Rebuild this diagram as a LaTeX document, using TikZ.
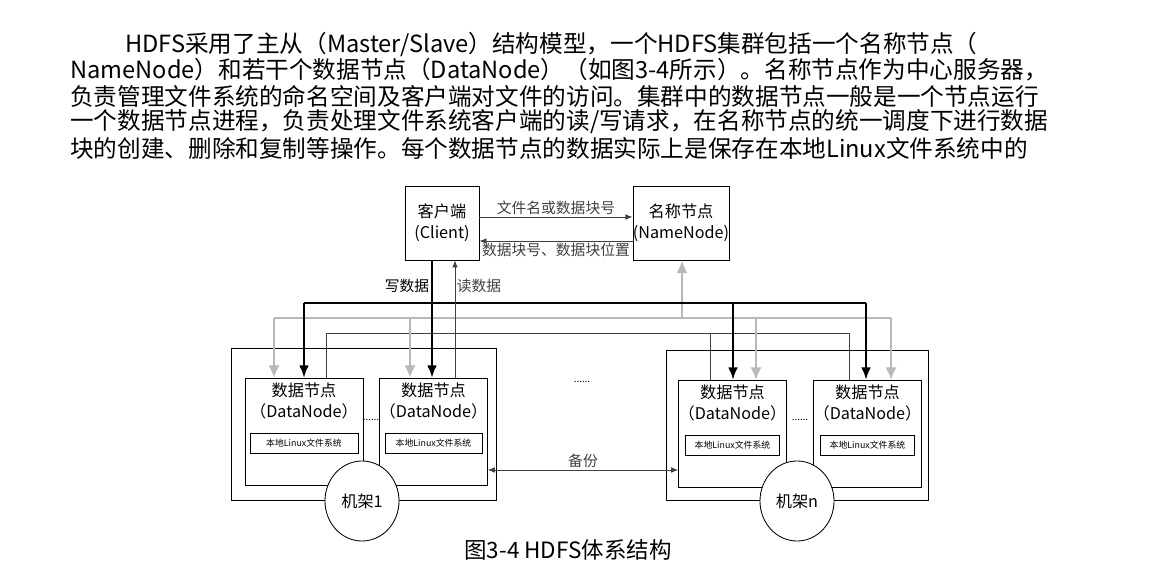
\documentclass[tikz,border=0pt]{standalone}
\usepackage{fontspec}
\setmainfont{Noto Sans CJK SC}
\usetikzlibrary{arrows.meta,shapes.geometric}
\begin{document}
\begin{tikzpicture}[x=0.025cm,y=-0.025cm,
  para/.style={anchor=west,inner sep=0,font=\fontsize{16.8}{18}\selectfont},
  box/.style={draw,fill=white,line width=0.6pt,align=center,font=\fontsize{11.5}{15}\selectfont,inner sep=0},
  dnbox/.style={box,minimum width=#1,minimum height=2.675cm,anchor=north},
  fsbox/.style={draw,line width=0.6pt,inner sep=0,minimum height=0.5cm,font=\fontsize{6.3}{7}\selectfont},
  blk/.style={line width=2pt,black},
  gry/.style={line width=2pt,black!28},
  thn/.style={line width=0.6pt,black!75},
  dots/.style={font=\fontsize{7}{8}\selectfont},
  lbl/.style={font=\fontsize{10.5}{12}\selectfont,inner sep=1pt}]
\useasboundingbox (0,0) rectangle (1163,563);
% paragraph
\node[para] (p1) at (125,45) {HDFS采用了主从（Master/Slave）结构模型，一个HDFS集群包括一个名称节点（};
\node[para] (p2) at (70,70) {NameNode）和若干个数据节点（DataNode）（如图3-4所示）。名称节点作为中心服务器，};
\node[para] (p3) at (70,96) {负责管理文件系统的命名空间及客户端对文件的访问。集群中的数据节点一般是一个节点运行};
\node[para] (p4) at (70,122) {一个数据节点进程，负责处理文件系统客户端的读/写请求，在名称节点的统一调度下进行数据};
\node[para] (p5) at (70,148) {块的创建、删除和复制等操作。每个数据节点的数据实际上是保存在本地Linux文件系统中的};
% top nodes
\node[box,minimum width=1.85cm,minimum height=1.85cm] (client) at (442,223) {客户端\\(Client)};
\node[box,minimum width=2.25cm,minimum height=1.85cm] (nn) at (681,223) {名称节点\\(NameNode)};
\draw[thn,-{Latex[length=5pt,width=4pt]}] (client.east |- 0,217) -- node[lbl,above]{文件名或数据块号} (nn.west |- 0,217);
\draw[thn,-{Latex[length=5pt,width=4pt]}] (nn.west |- 0,241) -- node[lbl,below]{数据块号、数据块位置} (client.east |- 0,241);
% racks
\node[draw,line width=0.6pt,minimum width=6.625cm,minimum height=3.8cm,anchor=north west] (rack1) at (231,348) {};
\node[draw,line width=0.6pt,minimum width=6.55cm,minimum height=3.75cm,anchor=north west] (rackn) at (666,350) {};
\node[dnbox=2.95cm] (dn1) at (304,378) {数据节点\\（DataNode）\\[30pt]~};
\node[dnbox=2.675cm] (dn2) at (433.5,378) {数据节点\\（DataNode）\\[30pt]~};
\node[dnbox=2.625cm] (dn3) at (732.5,380) {数据节点\\（DataNode）\\[30pt]~};
\node[dnbox=2.625cm] (dn4) at (867.5,380) {数据节点\\（DataNode）\\[30pt]~};
\node[fsbox,minimum width=2.7cm] (fs1) at (304,443) {本地Linux文件系统};
\node[fsbox,minimum width=2.425cm] (fs2) at (433.5,443) {本地Linux文件系统};
\node[fsbox,minimum width=2.35cm] (fs3) at (732.5,445) {本地Linux文件系统};
\node[fsbox,minimum width=2.35cm] (fs4) at (867.5,445) {本地Linux文件系统};
\node[draw,fill=white,line width=0.6pt,ellipse,inner sep=0,minimum width=1.85cm,minimum height=2cm,font=\fontsize{11.5}{14}\selectfont] (e1) at (362,501) {机架1};
\node[draw,fill=white,line width=0.6pt,ellipse,inner sep=0,minimum width=1.85cm,minimum height=2cm,font=\fontsize{11.5}{14}\selectfont] (en) at (797,501) {机架n};
\node[dots] (d1) at (371,420) {......};
\node[dots] (d2) at (800,420) {......};
\node[dots] (d3) at (582,382) {......};
% backup
\draw[thn,{Latex[length=5pt,width=4pt]}-{Latex[length=5pt,width=4pt]}] (dn2.east |- 0,470) -- node[lbl,above]{备份} (dn3.west |- 0,470);
% thin bus
\draw[thn] (dn1.north -| 326,0) -- (326,333) -- (849,333) -- (dn4.north -| 849,0);
\draw[thn] (710,333) -- (dn3.north -| 710,0);
% gray bus
\draw[gry] (274,318) -- (891,318);
\foreach \x/\n in {274/dn1,410/dn2,756/dn3,891/dn4}
  \draw[gry,-{Latex[length=9pt,width=8pt]}] (\x,318) -- (\n.north -| \x,0);
\draw[gry,-{Latex[length=9pt,width=8pt]}] (682,318) -- (nn.south -| 682,0);
% black bus
\draw[blk] (304,303) -- (866,303);
\foreach \x/\n in {304/dn1,733/dn3,866/dn4}
  \draw[blk,-{Latex[length=9pt,width=7pt]}] (\x,303) -- (\n.north -| \x,0);
\draw[blk,-{Latex[length=9pt,width=7pt]}] (client.south -| 432,0) -- node[lbl,left,pos=0.22]{写数据} (dn2.north -| 432,0);
\draw[thn,-{Latex[length=5pt,width=4pt]}] (dn2.north -| 455,0) -- node[lbl,right,pos=0.78]{读数据} (client.south -| 455,0);
\node[font=\fontsize{16}{18}\selectfont] (cap) at (568,550) {图3-4 HDFS体系结构};
\end{tikzpicture}
\end{document}
